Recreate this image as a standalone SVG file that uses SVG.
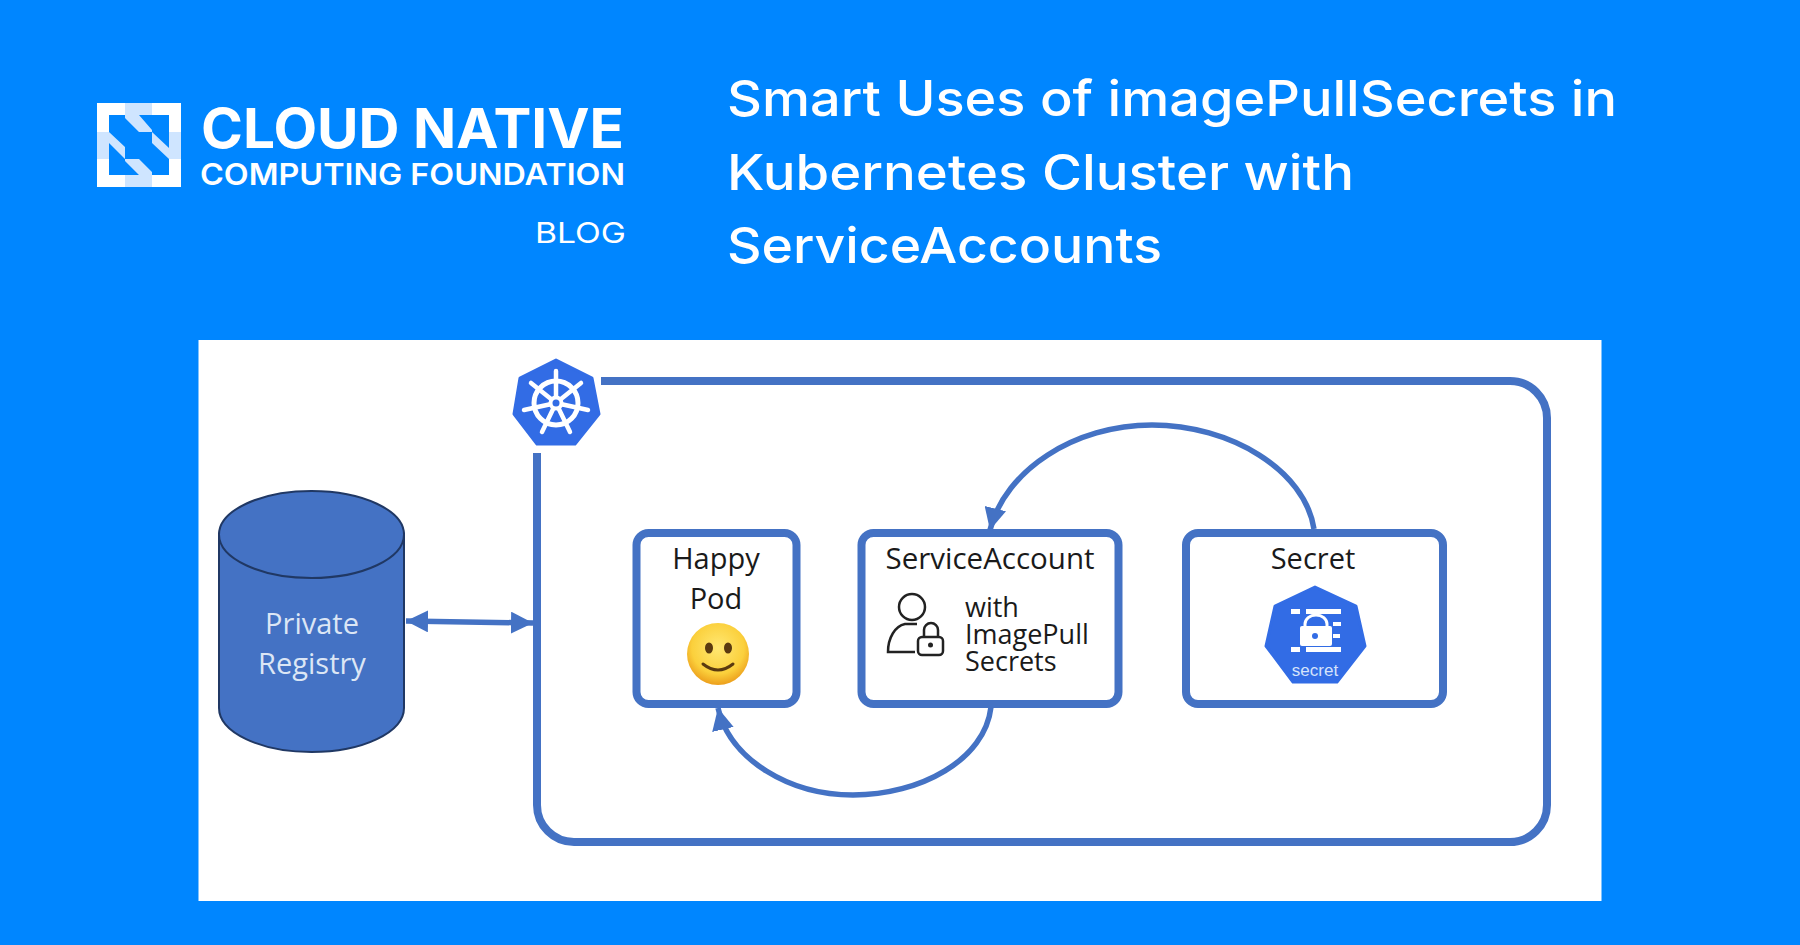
<svg xmlns="http://www.w3.org/2000/svg" width="1800" height="945" viewBox="0 0 1800 945">
<style>
.hd{font-family:"Inter","Lato","Liberation Sans",sans-serif;fill:#fff}
.lb{font-family:"Open Sans","Noto Sans","Liberation Sans",sans-serif;fill:#1a1a1a;font-size:27px}
.big{font-size:29px}
.mid{text-anchor:middle}
.box{fill:#fff;stroke:#4472c4;stroke-width:8}
.con{fill:none;stroke:#4472c4;stroke-width:5.500}
.lite{fill:#cfe5ff}
.wh{fill:#fff}
</style>
<defs>
<marker id="ah" viewBox="0 0 10 10" refX="10" refY="5" markerWidth="4" markerHeight="4" orient="auto-start-reverse"><path d="M0,0L10,5L0,10Z" fill="#4472c4"/></marker>
<radialGradient id="sm" cx="50%" cy="40%" r="60%"><stop offset="0" stop-color="#ffe873"/><stop offset="0.7" stop-color="#fbd03c"/><stop offset="1" stop-color="#ec9f1c"/></radialGradient>
</defs>
<rect width="1800" height="945" fill="#0086ff"/>
<g id="logo">
<rect class="wh" x="97" y="103" width="84" height="84"/>
<rect x="109" y="115" width="60" height="60" fill="#0086ff"/>
<rect class="lite" x="125" y="103" width="27" height="12"/>
<rect class="lite" x="125" y="175" width="27" height="12"/>
<rect class="lite" x="97" y="132" width="12" height="27"/>
<rect class="lite" x="169" y="132" width="12" height="27"/>
<path class="lite" d="M125,115H139L152,130V132H139L125,118ZM152,132L169,148V159L152,143ZM109,132L125,147V159L109,143ZM125,159H139L152,172V175H139L125,161Z"/>
<text class="hd" x="201" y="148" font-size="55" font-weight="700" textLength="423" lengthAdjust="spacingAndGlyphs">CLOUD NATIVE</text>
<text class="hd" x="200" y="185" font-size="30" font-weight="600" textLength="425" lengthAdjust="spacingAndGlyphs">COMPUTING FOUNDATION</text>
<text class="hd" x="535" y="243" font-size="29" font-weight="400" textLength="91" lengthAdjust="spacingAndGlyphs">BLOG</text>
</g>
<g id="title">
<text class="hd" x="727" y="116" font-size="50" font-weight="500" textLength="890" lengthAdjust="spacingAndGlyphs">Smart Uses of imagePullSecrets in</text>
<text class="hd" x="727" y="190" font-size="50" font-weight="500" textLength="627" lengthAdjust="spacingAndGlyphs">Kubernetes Cluster with</text>
<text class="hd" x="727" y="263" font-size="50" font-weight="500" textLength="435" lengthAdjust="spacingAndGlyphs">ServiceAccounts</text>
</g>
<rect id="panel" x="198.500" y="340" width="1403" height="561" fill="#fff"/>
<g id="cluster">
<path d="M601,381H1510A37,37 0 0 1 1547,418V805A37,37 0 0 1 1510,842H574A37,37 0 0 1 537,805V453" fill="none" stroke="#4472c4" stroke-width="8"/>
</g>
<g id="k8s-icon">
<path d="M556,360L592,378L599,414L575,444L537,444L514,414L520,378Z" fill="#326ce5" stroke="#326ce5" stroke-width="3" stroke-linejoin="round"/>
<circle cx="556" cy="403" r="22" fill="none" stroke="#fff" stroke-width="5"/>
<path d="M556,403V371M556,403L581,383M556,403L588,410M556,403L570,432M556,403L542,432M556,403L524,410M556,403L531,383" stroke="#fff" stroke-width="4.500" stroke-linecap="round" fill="none"/>
<circle cx="556" cy="403" r="7.500" fill="#fff"/><circle cx="556" cy="403" r="3.500" fill="#326ce5"/>
</g>
<g id="private-registry">
<path d="M219,533.500V708A92.500,44 0 0 0 404,708V533.500Z" fill="#4472c4" stroke="#203864" stroke-width="2"/>
<ellipse cx="311.500" cy="534.500" rx="92.500" ry="43.500" fill="#4472c4" stroke="#203864" stroke-width="2"/>
<text class="lb big mid" x="312" y="634" style="fill:#dce6f5">Private</text>
<text class="lb big mid" x="312" y="674" style="fill:#dce6f5">Registry</text>
</g>
<g id="happy-pod">
<rect class="box" x="636.500" y="533" width="160" height="171" rx="12"/>
<text class="lb big mid" x="716" y="569">Happy</text>
<text class="lb big mid" x="716" y="609">Pod</text>
<circle cx="718" cy="654" r="31" fill="url(#sm)"/>
<ellipse cx="709" cy="648" rx="4" ry="5.500" fill="#5a3a10"/><ellipse cx="728" cy="648" rx="4" ry="5.500" fill="#5a3a10"/>
<path d="M703,664Q718,676 733,664" fill="none" stroke="#5a3a10" stroke-width="3" stroke-linecap="round"/>
</g>
<g id="service-account">
<rect class="box" x="861.500" y="533" width="257" height="171" rx="12"/>
<text class="lb big mid" x="990" y="569" style="font-size:29.500px">ServiceAccount</text>
<text class="lb" x="965" y="617">with</text>
<text class="lb" x="965" y="644">ImagePull</text>
<text class="lb" x="965" y="671">Secrets</text>
<g fill="none" stroke="#222" stroke-width="2.500">
<circle cx="912" cy="607" r="13"/>
<path d="M917,624H905C895,626 888,638 888,652H915"/>
<rect x="918" y="637" width="25" height="18" rx="4"/>
<path d="M924,637V630A7,7 0 0 1 938,630V637"/>
</g>
<circle cx="930.500" cy="645" r="2.500" fill="#222"/>
</g>
<g id="secret">
<rect class="box" x="1186" y="533" width="257" height="171" rx="12"/>
<text class="lb big mid" x="1313" y="569">Secret</text>
<path d="M1315,587L1356,606L1365,646L1337,682L1293,682L1266,646L1275,606Z" fill="#326ce5" stroke="#326ce5" stroke-width="3" stroke-linejoin="round"/>
<g fill="#fff">
<rect x="1291" y="609" width="9" height="5"/><rect x="1306" y="609" width="35" height="5"/>
<rect x="1333" y="622" width="8" height="4"/><rect x="1333" y="634" width="7" height="4"/>
<rect x="1291" y="647" width="9" height="5"/><rect x="1306" y="647" width="35" height="5"/>
<rect x="1300" y="626" width="32" height="20" rx="2"/>
</g>
<path d="M1305,626V624A11,9 0 0 1 1327,624V626" fill="none" stroke="#fff" stroke-width="3"/>
<circle cx="1315" cy="636" r="3" fill="#326ce5"/>
<text x="1315" y="676" text-anchor="middle" font-family="Liberation Sans,sans-serif" font-size="17" fill="#d5e3fb">secret</text>
</g>
<g id="connectors">
<path class="con" d="M1314,529C1305,470 1230,425 1152,425C1075,425 1005,470 990,530" marker-end="url(#ah)"/>
<path class="con" d="M991,707C985,760 920,795 853,795C790,795 730,760 718,708" marker-end="url(#ah)"/>
<path class="con" d="M406,621L533,623" marker-start="url(#ah)" marker-end="url(#ah)"/>
</g>
</svg>
